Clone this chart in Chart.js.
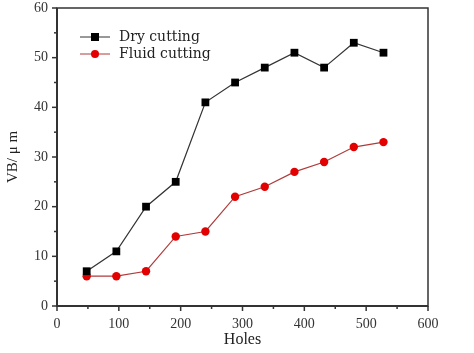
<!DOCTYPE html>
<html>
<head>
<meta charset="utf-8">
<script src="https://cdn.jsdelivr.net/npm/chart.js@4/dist/chart.umd.min.js"></script>
<style>
  html, body { margin: 0; padding: 0; background: #fff; }
  #wrap { width: 474px; height: 353px; }
</style>
</head>
<body>
<div id="wrap"><canvas id="wearChart" width="474" height="353"></canvas></div>
<script>
// data
const holes = [48, 96, 144, 192, 240, 288, 336, 384, 432, 480, 528];
const dryCutting = [7, 11, 20, 25, 41, 45, 48, 51, 48, 53, 51];
const fluidCutting = [6, 6, 7, 14, 15, 22, 24, 27, 29, 32, 33];
const xTicks = [0, 100, 200, 300, 400, 500, 600];
const yTicks = [0, 10, 20, 30, 40, 50, 60];

const serif = '"Liberation Serif", "DejaVu Serif", serif';

function toPoints(xs, ys) {
    return xs.map((x, i) => ({ x: x, y: ys[i] }));
}

// frame, ticks (major + minor) and inside legend
const framePlugin = {
    id: 'frame',
    afterDraw(chart) {
        const c = chart.ctx;
        const a = chart.chartArea;
        const xs = chart.scales.x;
        const ys = chart.scales.y;
        c.save();
        c.strokeStyle = '#333';
        c.lineWidth = 1.5;
        c.strokeRect(a.left, a.top, a.right - a.left, a.bottom - a.top);
        c.lineWidth = 2;
        c.beginPath();
        c.moveTo(a.left, a.top); c.lineTo(a.left, a.bottom); c.lineTo(a.right, a.bottom);
        c.stroke();

        c.lineWidth = 1.5;
        for (let v = 0; v <= 600; v += 50) {
            const px = xs.getPixelForValue(v);
            const len = v % 100 === 0 ? 5 : 3;
            c.beginPath(); c.moveTo(px, a.bottom); c.lineTo(px, a.bottom + len); c.stroke();
        }
        for (let v = 0; v <= 60; v += 5) {
            const py = ys.getPixelForValue(v);
            const len = v % 10 === 0 ? 5 : 3;
            c.beginPath(); c.moveTo(a.left, py); c.lineTo(a.left - len, py); c.stroke();
        }

        // legend
        c.font = '14px "DejaVu Serif", serif';
        c.textBaseline = 'middle';
        chart.data.datasets.forEach((ds, i) => {
            const y = a.top + 29 + i * 17;
            const x0 = a.left + 23;
            c.strokeStyle = ds.borderColor;
            c.lineWidth = 1;
            c.beginPath(); c.moveTo(x0, y); c.lineTo(x0 + 30, y); c.stroke();
            c.fillStyle = ds.pointBackgroundColor;
            if (ds.pointStyle === 'rect') {
                c.fillRect(x0 + 15 - 4, y - 4, 8, 8);
            } else {
                c.beginPath(); c.arc(x0 + 15, y, 4, 0, Math.PI * 2); c.fill();
            }
            c.fillStyle = '#222';
            c.fillText(ds.label, x0 + 39, y);
        });
        c.restore();
    }
};

const ctx = document.getElementById('wearChart').getContext('2d');
new Chart(ctx, {
    type: 'line',
    data: {
        datasets: [
            {
                label: 'Dry cutting',
                data: toPoints(holes, dryCutting),
                borderColor: '#333',
                borderWidth: 1.2,
                pointStyle: 'rect',
                pointRadius: 5.5,
                pointBackgroundColor: '#000',
                pointBorderColor: '#000',
                pointBorderWidth: 0
            },
            {
                label: 'Fluid cutting',
                data: toPoints(holes, fluidCutting),
                borderColor: '#b03a3a',
                borderWidth: 1.2,
                pointStyle: 'circle',
                pointRadius: 4.2,
                pointBackgroundColor: '#e30000',
                pointBorderColor: '#e30000',
                pointBorderWidth: 0
            }
        ]
    },
    options: {
        responsive: false,
        animation: false,
        layout: { padding: { top: 8, right: 46, left: 0, bottom: 0 } },
        plugins: {
            legend: { display: false },
            tooltip: { enabled: false }
        },
        scales: {
            x: {
                type: 'linear',
                min: 0,
                max: 600,
                afterBuildTicks(scale) { scale.ticks = xTicks.map(v => ({ value: v })); },
                afterFit(scale) { scale.height = 47; scale.paddingLeft = 0; scale.paddingRight = 0; },
                grid: { display: false, drawTicks: false },
                border: { display: false },
                ticks: { padding: 10, color: '#333', font: { family: serif, size: 14 } },
                title: { display: true, text: 'Holes', color: '#222', padding: { top: 3 },
                         font: { family: serif, size: 16 } }
            },
            y: {
                min: 0,
                max: 60,
                afterBuildTicks(scale) { scale.ticks = yTicks.map(v => ({ value: v })); },
                afterFit(scale) { scale.width = 57; scale.paddingTop = 0; scale.paddingBottom = 0; },
                grid: { display: false, drawTicks: false },
                border: { display: false },
                ticks: { padding: 9, color: '#333', font: { family: serif, size: 14 } },
                title: { display: true, text: 'VB/ μ m', color: '#222', padding: { bottom: 4 },
                         font: { family: serif, size: 15 } }
            }
        }
    },
    plugins: [framePlugin]
});
</script>
</body>
</html>
